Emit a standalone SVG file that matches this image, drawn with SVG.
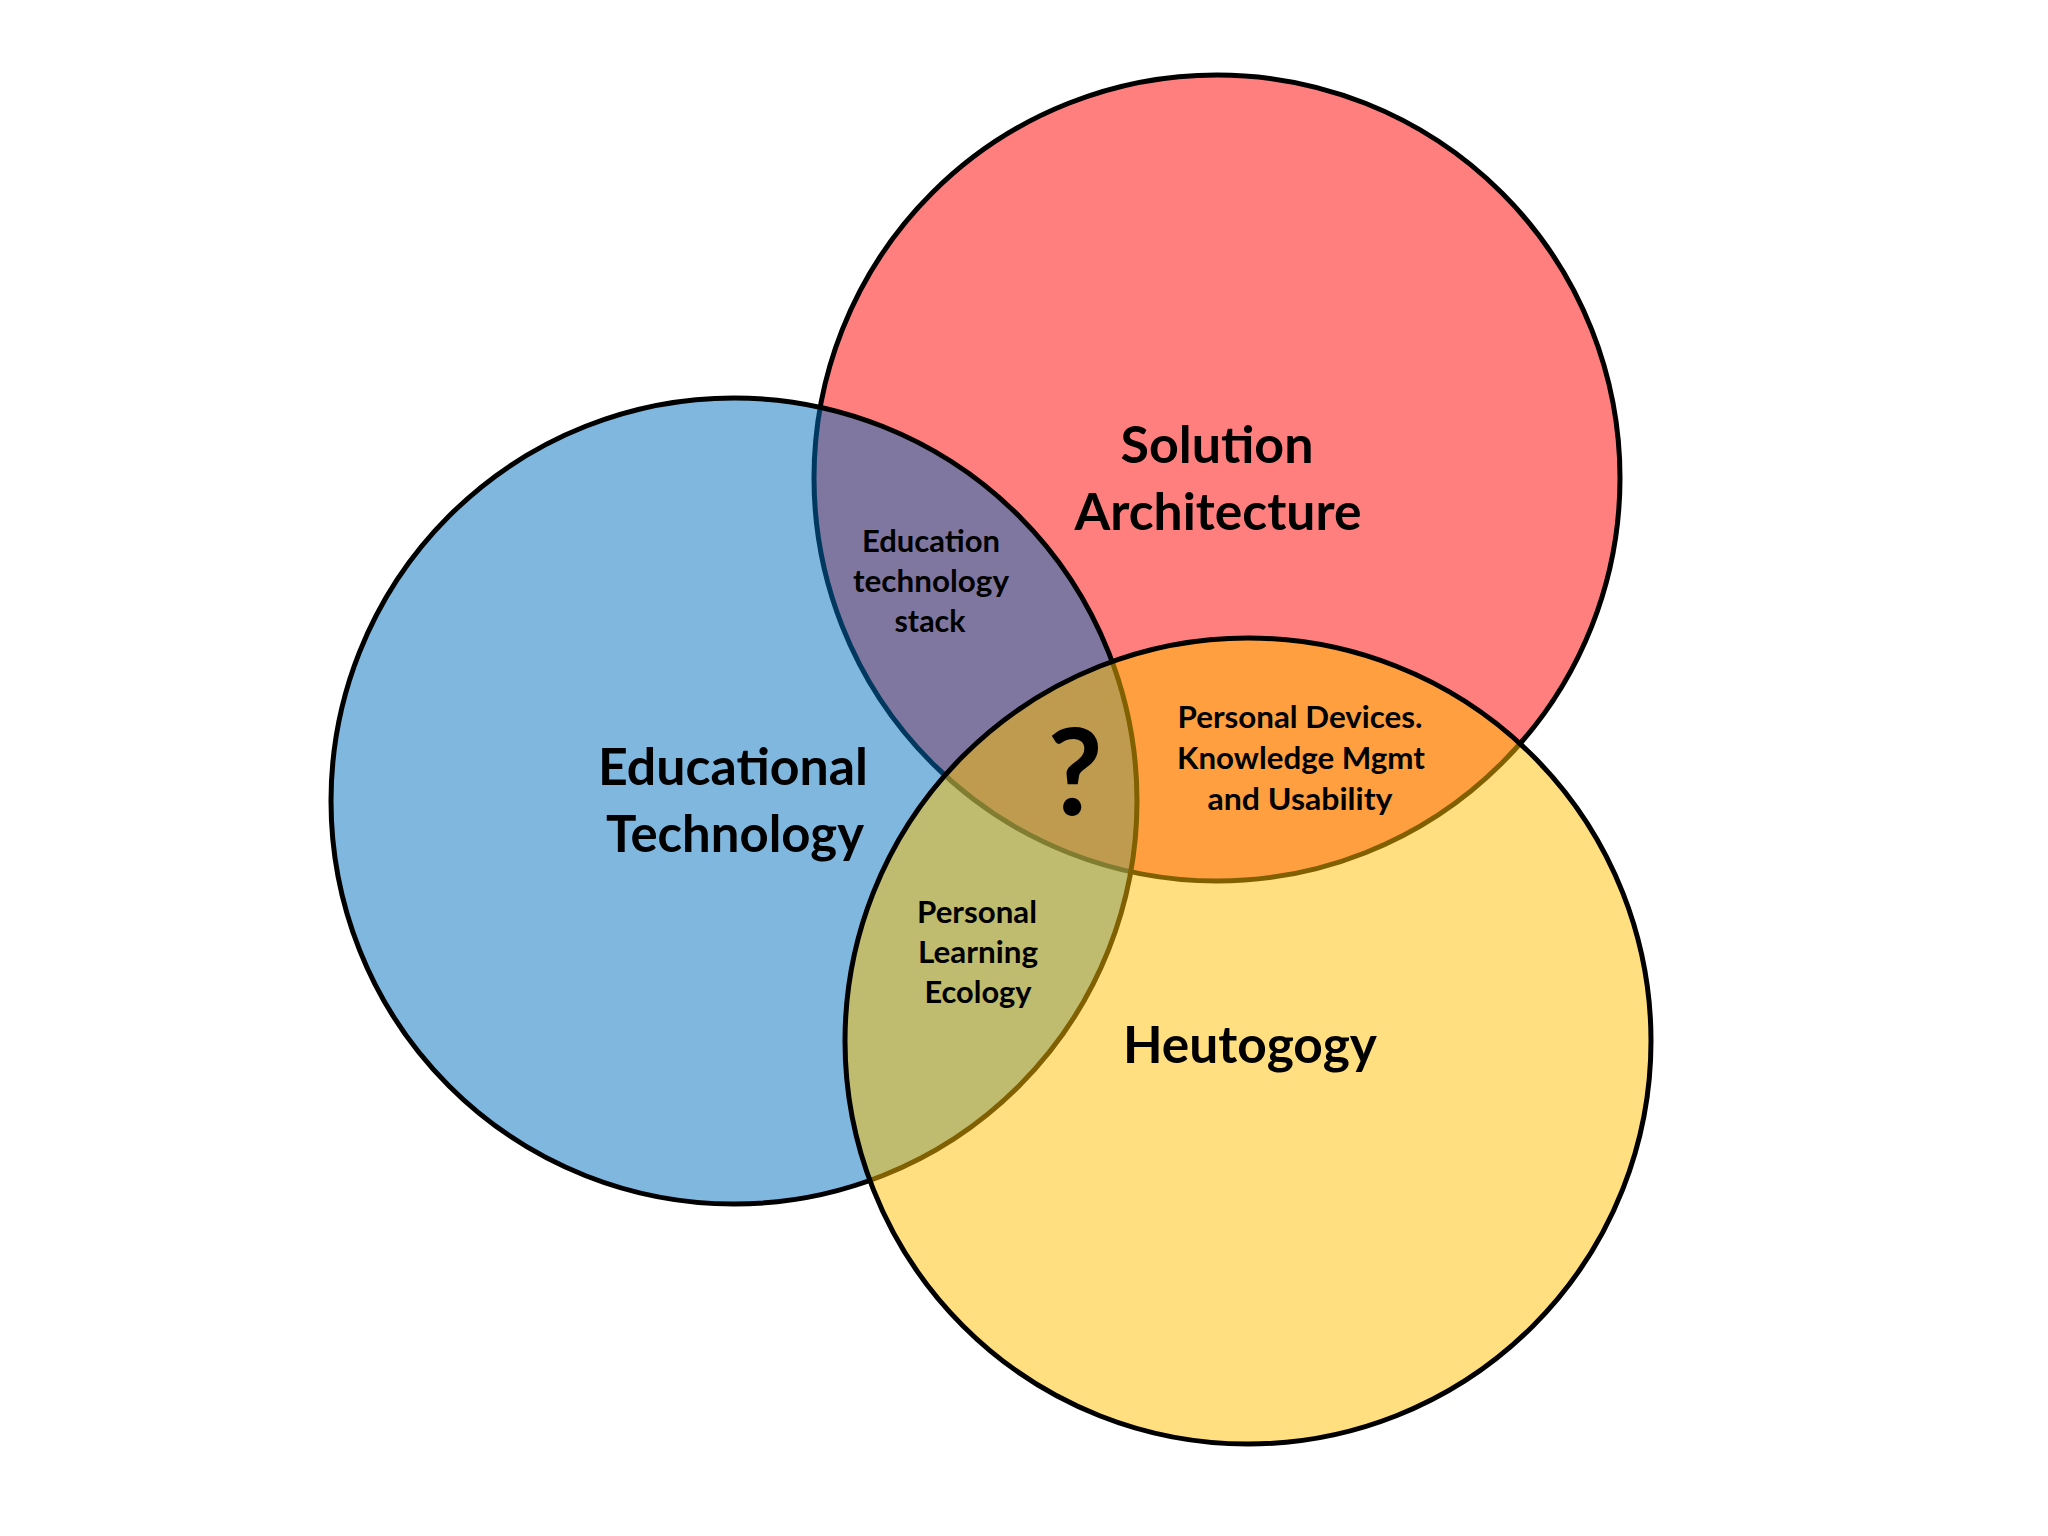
<svg xmlns="http://www.w3.org/2000/svg" width="2048" height="1536" viewBox="0 0 2048 1536">
  <style>
    .set { stroke: #000; stroke-width: 5; fill-opacity: 0.5; }
    .big { font-family: Lato, "Open Sans", "Liberation Sans", sans-serif; font-weight: 700; font-size: 51px; fill: #000; text-anchor: middle; }
    .small { font-family: Lato, "Open Sans", "Liberation Sans", sans-serif; font-weight: 700; font-size: 29.5px; fill: #000; text-anchor: middle; }
    .q { font-family: Lato, "Open Sans", "Liberation Sans", sans-serif; font-weight: 700; font-size: 120px; fill: #000; text-anchor: middle; }
  </style>
  <rect width="2048" height="1536" fill="#ffffff"/>
  <g id="solution-architecture">
    <circle class="set" cx="1217" cy="478" r="403" fill="#FF0000"/>
  </g>
  <g id="educational-technology">
    <circle class="set" cx="734" cy="801" r="403" fill="#0070C0"/>
  </g>
  <g id="heutogogy">
    <circle class="set" cx="1248" cy="1041" r="403" fill="#FFC000"/>
  </g>
  <g id="labels">
    <g id="label-solution-architecture">
      <text class="big" x="1217" y="463" textLength="193" lengthAdjust="spacingAndGlyphs">Solution</text>
      <text class="big" x="1218" y="530" textLength="287" lengthAdjust="spacingAndGlyphs">Architecture</text>
    </g>
    <g id="label-educational-technology">
      <text class="big" x="733" y="785" textLength="270" lengthAdjust="spacingAndGlyphs">Educational</text>
      <text class="big" x="735" y="852" textLength="258" lengthAdjust="spacingAndGlyphs">Technology</text>
    </g>
    <g id="label-heutogogy">
      <text class="big" x="1250" y="1063" textLength="254" lengthAdjust="spacingAndGlyphs">Heutogogy</text>
    </g>
    <g id="label-edtech-stack">
      <text class="small" x="931" y="552" textLength="138" lengthAdjust="spacingAndGlyphs">Education</text>
      <text class="small" x="931" y="592" textLength="156" lengthAdjust="spacingAndGlyphs">technology</text>
      <text class="small" x="930" y="632" textLength="71" lengthAdjust="spacingAndGlyphs">stack</text>
    </g>
    <g id="label-personal-devices">
      <text class="small" x="1300" y="728" textLength="245" lengthAdjust="spacingAndGlyphs">Personal Devices.</text>
      <text class="small" x="1301" y="769" textLength="248" lengthAdjust="spacingAndGlyphs">Knowledge Mgmt</text>
      <text class="small" x="1300" y="810" textLength="185" lengthAdjust="spacingAndGlyphs">and Usability</text>
    </g>
    <g id="label-personal-learning">
      <text class="small" x="977" y="923" textLength="120" lengthAdjust="spacingAndGlyphs">Personal</text>
      <text class="small" x="978" y="963" textLength="120" lengthAdjust="spacingAndGlyphs">Learning</text>
      <text class="small" x="978" y="1003" textLength="107" lengthAdjust="spacingAndGlyphs">Ecology</text>
    </g>
    <g id="label-center">
      <text class="q" x="1075" y="815">?</text>
    </g>
  </g>
</svg>
